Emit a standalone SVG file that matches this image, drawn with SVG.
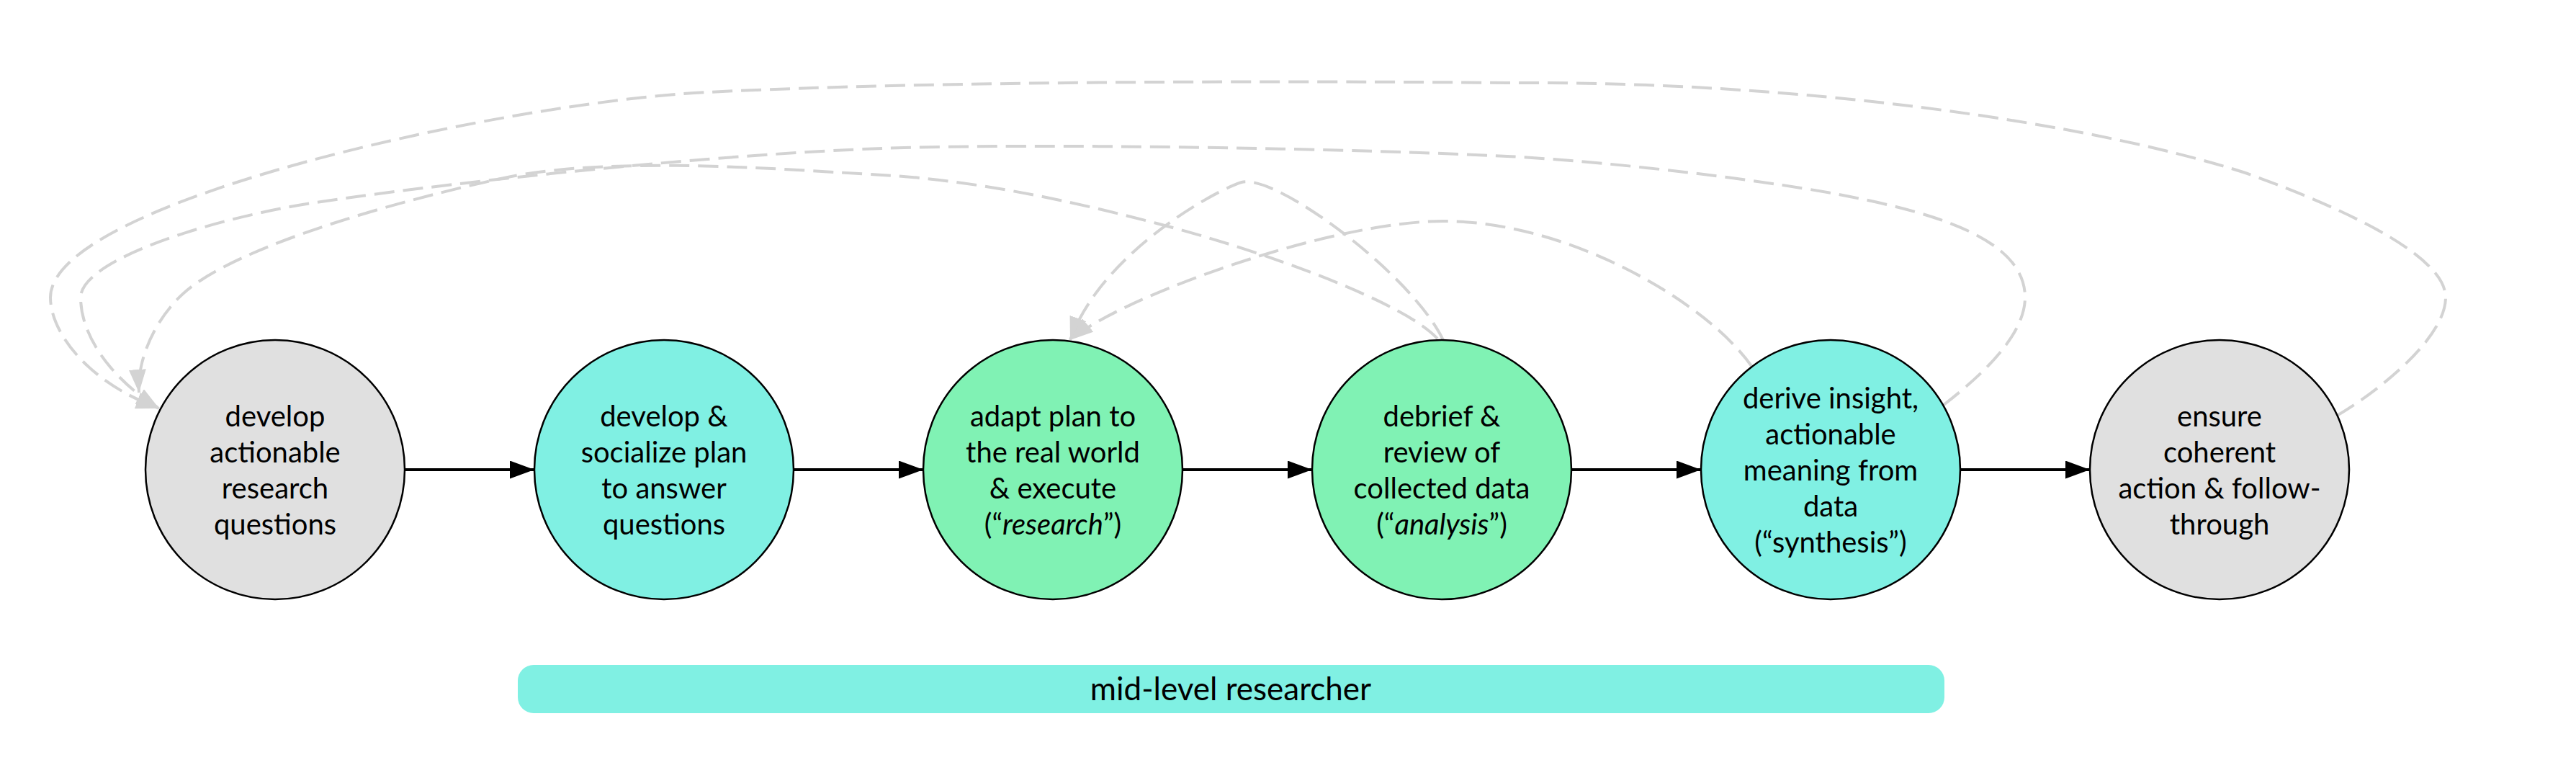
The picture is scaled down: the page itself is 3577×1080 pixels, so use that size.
<svg xmlns="http://www.w3.org/2000/svg" width="3577" height="1080" viewBox="0 0 3577 1080">
<style>
.node circle{stroke:#000;stroke-width:2.5}
.gray{fill:#e0e0e0}
.cyan{fill:#80f0e3}
.green{fill:#80f2b4}
.lbl{font-family:Lato,"Liberation Sans",sans-serif;font-size:40px;text-anchor:middle;fill:#000}
.bar{font-family:Lato,"Liberation Sans",sans-serif;font-size:44px;text-anchor:middle;fill:#000}
.fwd{stroke:#000;stroke-width:4;fill:none;marker-end:url(#ba)}
.back{stroke:#d3d3d3;stroke-width:4;fill:none;stroke-dasharray:28 12;marker-end:url(#ga)}
</style>
<defs>
<marker id="ba" markerUnits="userSpaceOnUse" markerWidth="34" markerHeight="25" viewBox="0 0 34 25" refX="34" refY="12.5" orient="auto"><path d="M0,0 L34,12.5 L0,25 z" fill="#000"/></marker>
<marker id="ga" markerUnits="userSpaceOnUse" markerWidth="32" markerHeight="24" viewBox="0 0 32 24" refX="32" refY="12" orient="auto"><path d="M0,0 L32,12 L0,24 z" fill="#d3d3d3"/></marker>
</defs>
<rect width="3577" height="1080" fill="#fff"/>

<g id="connectors">
<line class="fwd" x1="562" y1="652" x2="742" y2="652"/>
<line class="fwd" x1="1102" y1="652" x2="1282" y2="652"/>
<line class="fwd" x1="1642" y1="652" x2="1822" y2="652"/>
<line class="fwd" x1="2182" y1="652" x2="2362" y2="652"/>
<line class="fwd" x1="2722" y1="652" x2="2902" y2="652"/>
<path class="back" d="M3245,577 C3300,545 3396,470 3396,413 C3396,350 3230,280 3118,240 C2900,170 2500,112 2093,115 C1800,112 1300,112 982,128 C700,142 70,280 70,413 C70,460 120,530 221,567"/>
<path class="back" d="M2699,562 C2740,530 2812,470 2812,413 C2812,330 2680,295 2569,273 C2470,253 2250,225 2093,217 C1900,207 1450,198 1225,206 C1000,214 650,250 446,280 C300,301 112,360 112,413 C112,470 160,530 221,567"/>
<path class="back" d="M1996,470 C1950,420 1760,350 1606,310 C1480,277 1350,250 1225,243 C1100,236 850,215 700,247 C560,277 330,340 255,407 C215,443 190,500 193,545"/>
<path class="back" d="M2004,472 C1960,380 1770,240 1724,253 C1690,263 1530,350 1486,472"/>
<path class="back" d="M2432,508 C2370,420 2180,307 2004,307 C1850,307 1560,410 1486,472"/>
</g>

<g id="n1" class="node">
<circle class="gray" cx="382" cy="652" r="180"/>
<text class="lbl" x="382" y="592">develop</text>
<text class="lbl" x="382" y="642">actionable</text>
<text class="lbl" x="382" y="692">research</text>
<text class="lbl" x="382" y="742">questions</text>
</g>
<g id="n2" class="node">
<circle class="cyan" cx="922" cy="652" r="180"/>
<text class="lbl" x="922" y="592">develop &amp;</text>
<text class="lbl" x="922" y="642">socialize plan</text>
<text class="lbl" x="922" y="692">to answer</text>
<text class="lbl" x="922" y="742">questions</text>
</g>
<g id="n3" class="node">
<circle class="green" cx="1462" cy="652" r="180"/>
<text class="lbl" x="1462" y="592">adapt plan to</text>
<text class="lbl" x="1462" y="642">the real world</text>
<text class="lbl" x="1462" y="692">&amp; execute</text>
<text class="lbl" x="1462" y="742">(“<tspan font-style="italic">research</tspan>”)</text>
</g>
<g id="n4" class="node">
<circle class="green" cx="2002" cy="652" r="180"/>
<text class="lbl" x="2002" y="592">debrief &amp;</text>
<text class="lbl" x="2002" y="642">review of</text>
<text class="lbl" x="2002" y="692">collected data</text>
<text class="lbl" x="2002" y="742">(“<tspan font-style="italic">analysis</tspan>”)</text>
</g>
<g id="n5" class="node">
<circle class="cyan" cx="2542" cy="652" r="180"/>
<text class="lbl" x="2542" y="567">derive insight,</text>
<text class="lbl" x="2542" y="617">actionable</text>
<text class="lbl" x="2542" y="667">meaning from</text>
<text class="lbl" x="2542" y="717">data</text>
<text class="lbl" x="2542" y="767">(“synthesis”)</text>
</g>
<g id="n6" class="node">
<circle class="gray" cx="3082" cy="652" r="180"/>
<text class="lbl" x="3082" y="592">ensure</text>
<text class="lbl" x="3082" y="642">coherent</text>
<text class="lbl" x="3082" y="692">action &amp; follow-</text>
<text class="lbl" x="3082" y="742">through</text>
</g>
<g id="band">
<rect x="719" y="923" width="1981" height="67" rx="22" ry="22" fill="#80f0e3"/>
<text class="bar" x="1709" y="972">mid-level researcher</text>
</g>
</svg>
